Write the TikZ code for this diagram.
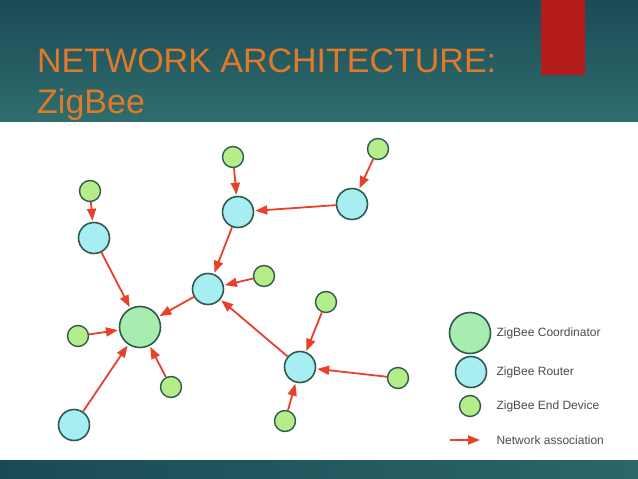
\documentclass[tikz,border=0pt]{standalone}
\usepackage{fontspec}
\setmainfont{Liberation Sans}
\usetikzlibrary{arrows.meta}
\definecolor{bgA}{HTML}{1B4A57}
\definecolor{bgB}{HTML}{2F6E6C}
\definecolor{ttl}{HTML}{E07A2A}
\definecolor{redbox}{HTML}{B41C1C}
\definecolor{coordc}{HTML}{A8EDB0}
\definecolor{routc}{HTML}{A6EEF2}
\definecolor{endc}{HTML}{B5EE88}
\definecolor{edgec}{HTML}{E8402A}
\definecolor{rim}{HTML}{2F5A4F}
\tikzset{
 coord/.style={circle,draw=rim,line width=1.6pt,fill=coordc,minimum size=41pt,inner sep=0},
 rout/.style={circle,draw=rim,line width=1.6pt,fill=routc,minimum size=31pt,inner sep=0},
 endd/.style={circle,draw=rim,line width=1.4pt,fill=endc,minimum size=21pt,inner sep=0},
 assoc/.style={draw=edgec,line width=1.8pt,-{Triangle[length=12pt,width=9pt]},shorten >=1pt},
 leg/.style={anchor=west,font=\fontsize{12}{13}\selectfont,text=black!70},
}
\begin{document}
\begin{tikzpicture}[x=1pt,y=-1pt]
\useasboundingbox (0,0) rectangle (638,479);
\shade[top color=bgA,bottom color=bgB] (0,0) rectangle (638,122);
\shade[left color=bgA,right color=bgB!80!bgA] (0,460) rectangle (638,479);
\fill[white] (0,122) rectangle (638,460);
\fill[redbox] (541,0) rectangle (585,75);
\node[anchor=base west,inner sep=0,text=ttl,font=\fontsize{34}{38}\selectfont] (t1) at (37,72) {NETWORK ARCHITECTURE:};
\node[anchor=base west,inner sep=0,text=ttl,font=\fontsize{34}{38}\selectfont] (t2) at (37,113) {ZigBee};
% nodes
\node[coord] (C) at (140,327) {};
\node[rout] (R1) at (94,238) {};
\node[rout] (R2) at (238,212) {};
\node[rout] (R3) at (352,204) {};
\node[rout] (R4) at (208,289) {};
\node[rout] (R5) at (300,367) {};
\node[rout] (R6) at (74,425) {};
\node[endd] (E1) at (90,191) {};
\node[endd] (E2) at (233,157) {};
\node[endd] (E3) at (378,149) {};
\node[endd] (E4) at (264,276) {};
\node[endd] (E5) at (326,302) {};
\node[endd] (E6) at (78,336) {};
\node[endd] (E7) at (171,387) {};
\node[endd] (E8) at (398,378) {};
\node[endd] (E9) at (285,421) {};
\foreach \a/\b in {E1/R1,E2/R2,E3/R3,R3/R2,R2/R4,E4/R4,R4/C,R1/C,E6/C,E7/C,R6/C,R5/R4,E5/R5,E8/R5,E9/R5}
  \draw[assoc] (\a) -- (\b);
% legend
\node[coord] (LC) at (470,333) {};
\node[rout] (LR) at (471,372) {};
\node[endd] (LE) at (470,406) {};
\coordinate (LA1) at (450,440);
\coordinate (LA2) at (481,440);
\draw[assoc] (LA1) -- (LA2);
\node[leg] (l1) at (493,333) {ZigBee Coordinator};
\node[leg] (l2) at (493,372) {ZigBee Router};
\node[leg] (l3) at (493,406) {ZigBee End Device};
\node[leg] (l4) at (493,440) {Network association};
\end{tikzpicture}
\end{document}
